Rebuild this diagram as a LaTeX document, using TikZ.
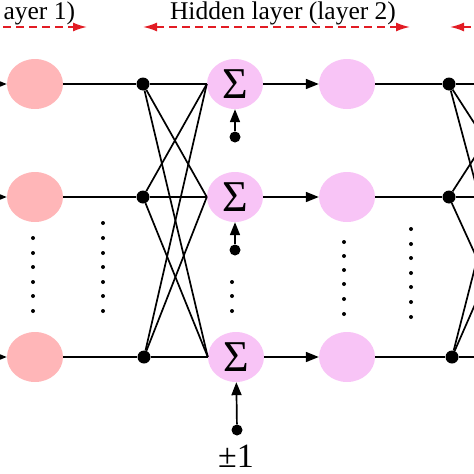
\documentclass[tikz,border=0pt]{standalone}
\usepackage{fontspec}
\setmainfont{Liberation Serif}
\usetikzlibrary{arrows.meta,shapes.geometric}
\definecolor{inpink}{RGB}{255,182,184}
\definecolor{hidpink}{RGB}{248,196,246}
\definecolor{spanred}{RGB}{226,28,36}
\tikzset{
	inneuron/.style={ellipse, fill=inpink, minimum width=56pt, minimum height=50pt, inner sep=0pt},
	hidneuron/.style={ellipse, fill=hidpink, minimum width=56pt, minimum height=50pt, inner sep=0pt, font=\fontsize{44}{48}\selectfont},
	junction/.style={circle, fill=black, minimum size=13pt, inner sep=0pt},
	biasdot/.style={circle, fill=black, minimum size=11pt, inner sep=0pt},
	wire/.style={line width=1.7pt},
	feed/.style={wire, -{Triangle[length=13pt,width=10pt]}},
	layerspan/.style={spanred, line width=1.7pt, dash pattern=on 8pt off 5pt},
	spanhead/.tip={Latex[length=14pt,width=9pt]}
}
\begin{document}
\begin{tikzpicture}[x=1pt,y=-1pt]
		\useasboundingbox (0,0) rectangle (474,474);
		\clip (0,0) rectangle (474,474);
		\def\ya{84}
		\def\yb{197}
		\def\yc{357}
		% layer labels
		\node[anchor=base west, font=\fontsize{25.5}{30}\selectfont] (lab1) at (0,19) {ayer 1)};
		\node[anchor=base, font=\fontsize{25.5}{30}\selectfont] (lab2) at (283,19) {Hidden layer (layer 2)};
		\coordinate (s1a) at (-10,27);
		\coordinate (s1b) at (87,27);
		\coordinate (s2a) at (143,27);
		\coordinate (s2b) at (410,27);
		\coordinate (s3a) at (450,27);
		\coordinate (s3b) at (500,27);
		\draw[layerspan, -spanhead] (s1a) -- (s1b);
		\draw[layerspan, spanhead-spanhead] (s2a) -- (s2b);
		\draw[layerspan, spanhead-] (s3a) -- (s3b);
		% input layer
		\coordinate (src1) at (-30,\ya);
		\coordinate (src2) at (-30,\yb);
		\coordinate (src3) at (-30,\yc);
		\node[inneuron] (in1) at (35,\ya) {};
		\node[inneuron] (in2) at (35,\yb) {};
		\node[inneuron] (in3) at (35,\yc) {};
		\node[junction] (ja1) at (143,\ya) {};
		\node[junction] (ja2) at (143,\yb) {};
		\node[junction] (ja3) at (144,\yc) {};
		% hidden layer
		\node[hidneuron] (sum1) at (235,\ya) {\raisebox{-2pt}{Σ}};
		\node[hidneuron] (sum2) at (235,\yb) {\raisebox{-2pt}{Σ}};
		\node[hidneuron] (sum3) at (236,\yc) {\raisebox{-2pt}{Σ}};
		\node[biasdot] (bias1) at (235,137) {};
		\node[biasdot] (bias2) at (235,250) {};
		\node[biasdot] (bias3) at (237,430) {};
		\node[anchor=base, font=\fontsize{34}{38}\selectfont] (pm) at (236,467) {±1};
		\node[hidneuron] (act1) at (347,\ya) {};
		\node[hidneuron] (act2) at (347,\yb) {};
		\node[hidneuron] (act3) at (347,\yc) {};
		\node[junction] (jb1) at (449,\ya) {};
		\node[junction] (jb2) at (449,\yb) {};
		\node[junction] (jb3) at (452,\yc) {};
		\coordinate (nx1) at (522,\ya);
		\coordinate (nx2) at (522,\yb);
		\coordinate (nx3) at (522,\yc);
		% connections
		\draw[feed] (src1) -- (in1);
		\draw[feed] (src2) -- (in2);
		\draw[feed] (src3) -- (in3);
		\draw[wire] (in1) -- (ja1);
		\draw[wire] (in2) -- (ja2);
		\draw[wire] (in3) -- (ja3);
		\draw[wire] (ja1) -- (sum1.west);
		\draw[wire] (ja1) -- (sum2.west);
		\draw[wire] (ja1) -- (sum3.west);
		\draw[wire] (ja2) -- (sum1.west);
		\draw[wire] (ja2) -- (sum2.west);
		\draw[wire] (ja2) -- (sum3.west);
		\draw[wire] (ja3) -- (sum1.west);
		\draw[wire] (ja3) -- (sum2.west);
		\draw[wire] (ja3) -- (sum3.west);
		\draw[feed] (bias1) -- (sum1);
		\draw[feed] (bias2) -- (sum2);
		\draw[feed] (bias3) -- (sum3);
		\draw[feed] (sum1) -- (act1);
		\draw[feed] (sum2) -- (act2);
		\draw[feed] (sum3) -- (act3);
		\draw[wire] (act1) -- (jb1);
		\draw[wire] (act2) -- (jb2);
		\draw[wire] (act3) -- (jb3);
		\draw[wire] (jb1) -- (nx1);
		\draw[wire] (jb1) -- (nx2);
		\draw[wire] (jb1) -- (nx3);
		\draw[wire] (jb2) -- (nx1);
		\draw[wire] (jb2) -- (nx2);
		\draw[wire] (jb2) -- (nx3);
		\draw[wire] (jb3) -- (nx1);
		\draw[wire] (jb3) -- (nx2);
		\draw[wire] (jb3) -- (nx3);
		% vertical dots
		\foreach \y in {238,253,267,282,296,311} \fill (33,\y) circle (2);
		\foreach \y in {223,238,253,267,282,296,311} \fill (103,\y) circle (2);
		\foreach \y in {282,296,311} \fill (232,\y) circle (2);
		\foreach \y in {242,256,270,284,299,314} \fill (344,\y) circle (2);
		\foreach \y in {229,244,258,273,287,302,317} \fill (411,\y) circle (2);
	\end{tikzpicture}
\end{document}
